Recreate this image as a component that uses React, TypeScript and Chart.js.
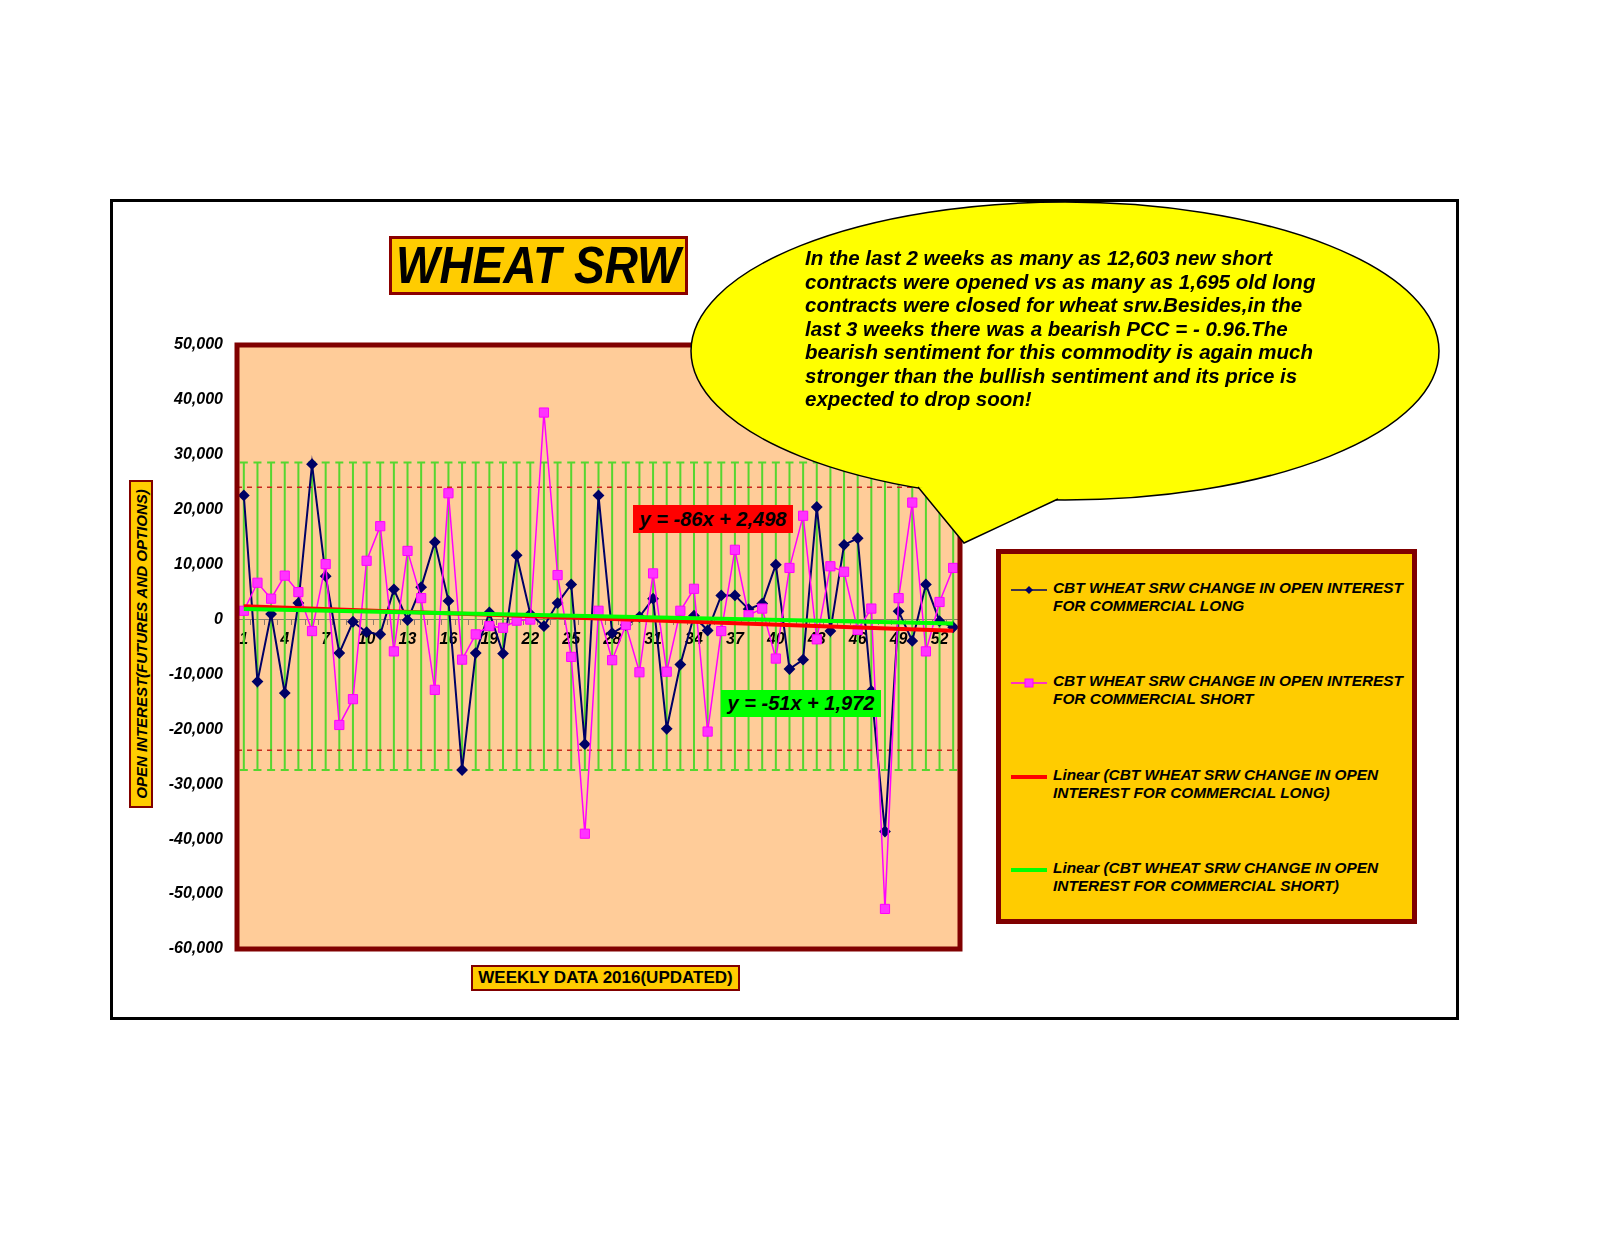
import React, { useEffect, useRef } from "react";
import { Chart, registerables } from "chart.js";

Chart.register(...registerables);

// ---------- DATA ----------
const WEEKS = [
  "1", "2", "3", "4", "5", "6", "7", "8", "9", "10",
  "11", "12", "13", "14", "15", "16", "17", "18", "19", "20",
  "21", "22", "23", "24", "25", "26", "27", "28", "29", "30",
  "31", "32", "33", "34", "35", "36", "37", "38", "39", "40",
  "41", "42", "43", "44", "45", "46", "47", "48", "49", "50",
  "51", "52", "53",
];

const SHOWN_WEEK_LABELS = [
  "1", "4", "7", "10", "13", "16", "19", "22", "25", "28",
  "31", "34", "37", "40", "43", "46", "49", "52",
];

const LONG_CHANGE = [
  22600, -11300, 1000, -13400, 3000, 28300, 7900, -6100, -400, -2300,
  -2700, 5500, -100, 5900, 14100, 3400, -27400, -6100, 1300, -6200,
  11700, 1000, -1200, 3000, 6400, -22700, 22600, -2500, -1000, 500,
  3800, -19900, -8200, 700, -2000, 4400, 4400, 1900, 2900, 10000,
  -9000, -7300, 20500, -2100, 13600, 14800, -13000, -38600, 1500, -3900,
  6400, -300, -1400,
];

const SHORT_CHANGE = [
  1600, 6700, 3800, 8000, 5000, -2100, 10100, -19200, -14500, 10700,
  17000, -5800, 12500, 3900, -12800, 23000, -7300, -2700, -1200, -1500,
  -200, 0, 37700, 8100, -6800, -39000, 1600, -7400, -1000, -9600,
  8400, -9500, 1600, 5600, -20400, -2100, 12700, 800, 2000, -7100,
  9400, 18900, -3600, 9700, 8700, -1900, 2000, -52700, 3900, 21300,
  -5800, 3200, 9400,
];

// trend-line equations as printed on the chart
const TREND_LONG = { slope: -86, intercept: 2498 };
const TREND_SHORT = { slope: -51, intercept: 1972 };

const Y_MIN = -60000;
const Y_MAX = 50000;
const Y_STEP = 10000;

const ERROR_BAR_HIGH = 28600;
const ERROR_BAR_LOW = -27400;
const BAND_HIGH = 24100;
const BAND_LOW = -23800;

const TITLE = "WHEAT SRW";
const Y_TITLE = "OPEN INTEREST(FUTURES AND OPTIONS)";
const X_TITLE = "WEEKLY DATA 2016(UPDATED)";
const EQ_LONG = "y = -86x + 2,498";
const EQ_SHORT = "y = -51x + 1,972";

const BUBBLE_LINES = [
  "In the last 2 weeks as many as 12,603 new short",
  "contracts were opened vs as many as 1,695 old long",
  "contracts were closed for wheat srw.Besides,in the",
  "last 3 weeks there was a bearish PCC = - 0.96.The",
  "bearish sentiment for this commodity is again much",
  "stronger than the bullish sentiment and its price is",
  "expected to drop soon!",
];

const LEGEND_ITEMS = [
  { kind: "long", lines: ["CBT WHEAT SRW CHANGE IN OPEN INTEREST", "FOR COMMERCIAL LONG"] },
  { kind: "short", lines: ["CBT WHEAT SRW CHANGE IN OPEN INTEREST", "FOR COMMERCIAL SHORT"] },
  { kind: "trendLong", lines: ["Linear (CBT WHEAT SRW CHANGE IN OPEN", "INTEREST FOR COMMERCIAL LONG)"] },
  { kind: "trendShort", lines: ["Linear (CBT WHEAT SRW CHANGE IN OPEN", "INTEREST FOR COMMERCIAL SHORT)"] },
];

// ---------- STYLE ----------
const FONT = '"Liberation Sans", Arial, Helvetica, sans-serif';
const NAVY = "#000066";
const MAGENTA = "#FF00FF";
const RED = "#FF0000";
const GREEN = "#00FF00";
const GOLD = "#FFCC00";
const MAROON = "#800000";
const PEACH = "#FFCC99";
const ERR_GREEN = "#55D62F";

function trendPoints(t: { slope: number; intercept: number }) {
  const first = 1;
  const last = WEEKS.length;
  return [
    { x: WEEKS[0], y: t.intercept + t.slope * first },
    { x: WEEKS[WEEKS.length - 1], y: t.intercept + t.slope * last },
  ];
}

const plotBackground = {
  id: "plotBackground",
  beforeDraw(chart: any) {
    const { ctx, chartArea: a } = chart;
    ctx.save();
    ctx.fillStyle = PEACH;
    ctx.fillRect(a.left, a.top, a.right - a.left, a.bottom - a.top);
    ctx.restore();
  },
};

const errorBars = {
  id: "errorBars",
  beforeDatasetsDraw(chart: any) {
    const { ctx, chartArea: a } = chart;
    const xs = chart.scales.x;
    const ys = chart.scales.y;
    ctx.save();
    ctx.strokeStyle = ERR_GREEN;
    ctx.lineWidth = 2;
    const top = ys.getPixelForValue(ERROR_BAR_HIGH);
    const bot = ys.getPixelForValue(ERROR_BAR_LOW);
    WEEKS.forEach((_w, i) => {
      const px = xs.getPixelForValue(i);
      ctx.beginPath();
      ctx.moveTo(px, top);
      ctx.lineTo(px, bot);
      ctx.moveTo(px - 4, top);
      ctx.lineTo(px + 4, top);
      ctx.moveTo(px - 4, bot);
      ctx.lineTo(px + 4, bot);
      ctx.stroke();
    });
    ctx.strokeStyle = "#C8281E";
    ctx.lineWidth = 1.5;
    ctx.setLineDash([5, 5]);
    [BAND_HIGH, BAND_LOW].forEach((v) => {
      const py = ys.getPixelForValue(v);
      ctx.beginPath();
      ctx.moveTo(a.left, py);
      ctx.lineTo(a.right, py);
      ctx.stroke();
    });
    ctx.restore();
  },
};

const plotBorder = {
  id: "plotBorder",
  afterDraw(chart: any) {
    const { ctx, chartArea: a } = chart;
    ctx.save();
    ctx.strokeStyle = MAROON;
    ctx.lineWidth = 5;
    ctx.strokeRect(a.left, a.top, a.right - a.left, a.bottom - a.top);
    ctx.restore();
  },
};

function LegendSample({ kind }: { kind: string }) {
  if (kind === "long") {
    return (
      <svg width={36} height={12}>
        <line x1={0} y1={6} x2={36} y2={6} stroke={NAVY} strokeWidth={1.6} />
        <polygon points="18,2 22,6 18,10 14,6" fill={NAVY} />
      </svg>
    );
  }
  if (kind === "short") {
    return (
      <svg width={36} height={12}>
        <line x1={0} y1={6} x2={36} y2={6} stroke={MAGENTA} strokeWidth={1.4} />
        <rect x={14} y={2} width={8} height={8} fill="#FF33FF" stroke={MAGENTA} />
      </svg>
    );
  }
  return (
    <svg width={36} height={12}>
      <line x1={0} y1={6} x2={36} y2={6} stroke={kind === "trendLong" ? RED : GREEN} strokeWidth={4} />
    </svg>
  );
}

export default function App() {
  const canvasRef = useRef<HTMLCanvasElement | null>(null);

  useEffect(() => {
    if (!canvasRef.current) return;
    const tickFont = { family: FONT, size: 16, style: "italic" as const, weight: "bold" as const };
    const chart = new Chart(canvasRef.current, {
      type: "line",
      data: {
        labels: WEEKS,
        datasets: [
          {
            label: "CBT WHEAT SRW CHANGE IN OPEN INTEREST FOR COMMERCIAL LONG",
            data: LONG_CHANGE,
            borderColor: NAVY,
            backgroundColor: NAVY,
            borderWidth: 2,
            pointStyle: "rectRot",
            pointRadius: 4.5,
            pointBackgroundColor: NAVY,
            pointBorderColor: NAVY,
            tension: 0,
            order: 3,
          },
          {
            label: "CBT WHEAT SRW CHANGE IN OPEN INTEREST FOR COMMERCIAL SHORT",
            data: SHORT_CHANGE,
            borderColor: MAGENTA,
            backgroundColor: "#FF33FF",
            borderWidth: 1.5,
            pointStyle: "rect",
            pointRadius: 6.5,
            pointBackgroundColor: "#FF33FF",
            pointBorderColor: MAGENTA,
            pointBorderWidth: 1,
            tension: 0,
            order: 2,
          },
          {
            label: "Linear (CBT WHEAT SRW CHANGE IN OPEN INTEREST FOR COMMERCIAL LONG)",
            data: trendPoints(TREND_LONG) as any,
            borderColor: RED,
            borderWidth: 4,
            pointRadius: 0,
            order: 1,
          },
          {
            label: "Linear (CBT WHEAT SRW CHANGE IN OPEN INTEREST FOR COMMERCIAL SHORT)",
            data: trendPoints(TREND_SHORT) as any,
            borderColor: GREEN,
            borderWidth: 4,
            pointRadius: 0,
            order: 0,
          },
        ],
      },
      options: {
        animation: false,
        responsive: true,
        maintainAspectRatio: false,
        layout: { padding: { left: 0, top: 15, right: 20, bottom: 21 } },
        plugins: {
          legend: { display: false },
          tooltip: { enabled: false },
          title: { display: false },
        },
        scales: {
          x: {
            type: "category",
            position: { y: 0 } as any,
            offset: true,
            grid: {
              display: true,
              drawOnChartArea: false,
              drawTicks: true,
              tickLength: 5,
              offset: true,
              color: "#8C7B6B",
            },
            border: { display: true, color: "#8C7B6B", width: 1 },
            ticks: {
              autoSkip: false,
              maxRotation: 0,
              minRotation: 0,
              padding: 5,
              color: "#000",
              font: tickFont,
              callback: (_v: any, index: number) =>
                SHOWN_WEEK_LABELS.includes(WEEKS[index]) ? WEEKS[index] : "",
            },
          },
          y: {
            type: "linear",
            min: Y_MIN,
            max: Y_MAX,
            grid: {
              display: true,
              drawOnChartArea: false,
              drawTicks: true,
              tickLength: 14,
              color: "rgba(0,0,0,0)",
            },
            border: { display: false },
            afterFit: (scale: any) => {
              scale.width = 107;
            },
            ticks: {
              stepSize: Y_STEP,
              padding: 0,
              color: "#000",
              font: tickFont,
              callback: (v: any) => Number(v).toLocaleString("en-US"),
            },
          },
        },
      },
      plugins: [plotBackground, errorBars, plotBorder],
    });
    return () => chart.destroy();
  }, []);

  const abs = (s: React.CSSProperties): React.CSSProperties => ({ position: "absolute", ...s });

  return (
    <div
      style={{
        position: "absolute",
        left: 0,
        top: 0,
        width: 1600,
        height: 1236,
        background: "#fff",
        fontFamily: FONT,
        overflow: "hidden",
      }}
    >
      {/* outer frame */}
      <div style={abs({ left: 110, top: 199, width: 1349, height: 821, border: "3px solid #000", boxSizing: "border-box" })} />

      {/* chart */}
      <div style={abs({ left: 130, top: 330, width: 850, height: 640 })}>
        <canvas ref={canvasRef} />
      </div>

      {/* title */}
      <div
        style={abs({
          left: 389,
          top: 236,
          width: 299,
          height: 59,
          background: GOLD,
          border: "3px solid #8B0000",
          boxSizing: "border-box",
          overflow: "hidden",
        })}
      >
        <div
          style={{
            position: "absolute",
            left: 4,
            top: 0,
            height: 53,
            lineHeight: "53px",
            fontSize: 46,
            fontWeight: "bold",
            fontStyle: "italic",
            whiteSpace: "nowrap",
            color: "#000",
            transform: "scaleY(1.12)",
          }}
        >
          {TITLE}
        </div>
      </div>

      {/* y-axis title */}
      <div
        style={abs({
          left: 129,
          top: 480,
          width: 24,
          height: 328,
          background: GOLD,
          border: "2px solid " + MAROON,
          boxSizing: "border-box",
        })}
      >
        <div
          style={{
            position: "absolute",
            left: "50%",
            top: "50%",
            transform: "translate(-50%, -50%) rotate(-90deg)",
            whiteSpace: "nowrap",
            fontSize: 15,
            fontWeight: "bold",
            fontStyle: "italic",
            color: "#000",
          }}
        >
          {Y_TITLE}
        </div>
      </div>

      {/* x-axis title */}
      <div
        style={abs({
          left: 471,
          top: 965,
          width: 269,
          height: 26,
          background: GOLD,
          border: "2px solid " + MAROON,
          boxSizing: "border-box",
          textAlign: "center",
          lineHeight: "22px",
          fontSize: 17,
          fontWeight: "bold",
          whiteSpace: "nowrap",
          color: "#000",
        })}
      >
        {X_TITLE}
      </div>

      {/* trend equations */}
      <div
        style={abs({
          left: 633,
          top: 505,
          width: 160,
          height: 28,
          background: RED,
          lineHeight: "28px",
          textAlign: "center",
          fontSize: 20,
          fontWeight: "bold",
          fontStyle: "italic",
          whiteSpace: "nowrap",
          color: "#000",
        })}
      >
        {EQ_LONG}
      </div>
      <div
        style={abs({
          left: 721,
          top: 690,
          width: 160,
          height: 27,
          background: GREEN,
          lineHeight: "27px",
          textAlign: "center",
          fontSize: 20,
          fontWeight: "bold",
          fontStyle: "italic",
          whiteSpace: "nowrap",
          color: "#000",
        })}
      >
        {EQ_SHORT}
      </div>

      {/* speech bubble */}
      <svg style={abs({ left: 0, top: 0 })} width={1600} height={1236}>
        <ellipse cx={1065} cy={351} rx={374} ry={149} fill="#FFFF00" stroke="#000" strokeWidth={1.5} />
        <polygon points="918,487 964,543 1058,499" fill="#FFFF00" stroke="none" />
        <polyline points="918,487 964,543 1058,499" fill="none" stroke="#000" strokeWidth={1.5} />
      </svg>
      <div
        style={abs({
          left: 805,
          top: 246,
          fontSize: 20.5,
          lineHeight: "23.5px",
          fontWeight: "bold",
          fontStyle: "italic",
          color: "#000",
          whiteSpace: "nowrap",
        })}
      >
        {BUBBLE_LINES.map((l, i) => (
          <div key={i}>{l}</div>
        ))}
      </div>

      {/* legend */}
      <div
        style={abs({
          left: 996,
          top: 549,
          width: 421,
          height: 375,
          background: GOLD,
          border: "5px solid " + MAROON,
          boxSizing: "border-box",
        })}
      />
      {LEGEND_ITEMS.map((item, k) => {
        const cy = 588 + k * 93.3;
        return (
          <React.Fragment key={item.kind}>
            <div style={abs({ left: 1011, top: cy - 6, width: 36, height: 12 })}>
              <LegendSample kind={item.kind} />
            </div>
            <div
              style={abs({
                left: 1053,
                top: cy - 9,
                fontSize: 15.4,
                lineHeight: "18px",
                fontWeight: "bold",
                fontStyle: "italic",
                color: "#000",
                whiteSpace: "nowrap",
              })}
            >
              {item.lines.map((l, i) => (
                <div key={i}>{l}</div>
              ))}
            </div>
          </React.Fragment>
        );
      })}
    </div>
  );
}
